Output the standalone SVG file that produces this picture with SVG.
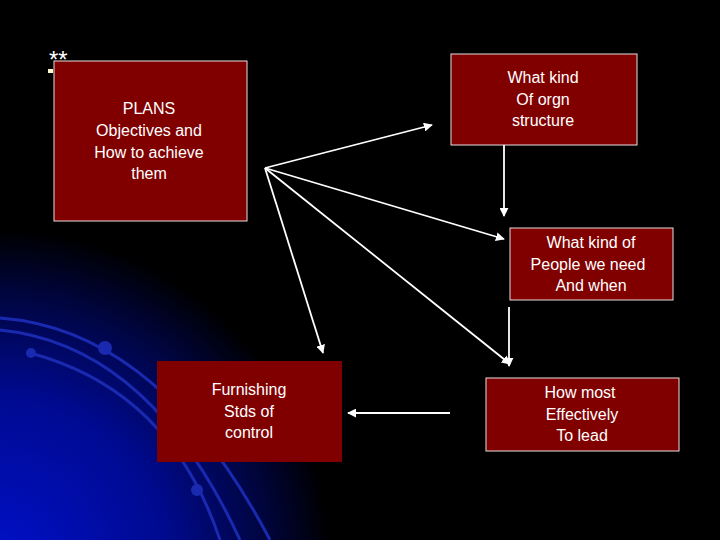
<svg xmlns="http://www.w3.org/2000/svg" width="720" height="540" viewBox="0 0 720 540">
<defs>
<radialGradient id="glow" cx="0" cy="560" r="330" gradientUnits="userSpaceOnUse">
<stop offset="0" stop-color="#0010c8"/><stop offset="0.5" stop-color="#000a90"/><stop offset="0.8" stop-color="#000540"/><stop offset="1" stop-color="#000000"/>
</radialGradient>
<marker id="ah" viewBox="0 0 10 10" refX="9" refY="5" markerWidth="5" markerHeight="5" orient="auto"><path d="M0,0 L10,5 L0,10 z" fill="#fff"/></marker>
<style>
.box{fill:#800000;stroke:#e8e0e0;stroke-width:1}
.t{font-family:"Liberation Sans",Arial,sans-serif;font-size:16px;fill:#fff;text-anchor:middle}
.c{stroke:#fff;stroke-width:1.8;fill:none;marker-end:url(#ah)}
.arc{stroke:#1a2ab0;stroke-width:3;fill:none}
</style>
</defs>
<rect width="720" height="540" fill="#000"/>
<rect x="0" y="200" width="400" height="340" fill="url(#glow)"/>
<path class="arc" d="M0,318 Q160,330 270,540"/>
<path class="arc" d="M0,330 Q150,345 240,540"/>
<path class="arc" d="M30,353 Q170,390 220,540"/>
<circle cx="105" cy="348" r="7" fill="#1a2ab0"/>
<circle cx="31" cy="353" r="5" fill="#1a2ab0"/>
<circle cx="197" cy="490" r="6" fill="#1a2ab0"/>
<text x="49" y="68" font-family="Liberation Sans,sans-serif" font-size="24" fill="#ffffff">**</text>
<rect x="48" y="69" width="5" height="4" fill="#fff8d0"/>
<g id="plans"><rect class="box" x="54" y="61" width="193" height="160"/>
<text class="t" x="149" y="114">PLANS</text><text class="t" x="149" y="136">Objectives and</text><text class="t" x="149" y="158">How to achieve</text><text class="t" x="149" y="179">them</text></g>
<g id="orgn"><rect class="box" x="451" y="54" width="186" height="91"/>
<text class="t" x="543" y="83">What kind</text><text class="t" x="543" y="105">Of orgn</text><text class="t" x="543" y="126">structure</text></g>
<g id="people"><rect class="box" x="510" y="228" width="163" height="72"/>
<text class="t" x="591" y="248">What kind of</text><text class="t" x="588" y="270">People we need</text><text class="t" x="591" y="291">And when</text></g>
<g id="lead"><rect class="box" x="486" y="378" width="193" height="73"/>
<text class="t" x="580" y="398">How most</text><text class="t" x="582" y="420">Effectively</text><text class="t" x="582" y="441">To lead</text></g>
<g id="control"><rect x="157" y="361" width="185" height="101" fill="#800000"/>
<text class="t" x="249" y="395">Furnishing</text><text class="t" x="249" y="417">Stds of</text><text class="t" x="249" y="438">control</text></g>
<g id="connectors">
<line class="c" x1="265" y1="168" x2="432" y2="125"/>
<line class="c" x1="265" y1="168" x2="504" y2="239"/>
<line class="c" x1="265" y1="168" x2="323" y2="353"/>
<line class="c" x1="265" y1="168" x2="510" y2="364"/>
<line class="c" x1="504" y1="145" x2="504" y2="216"/>
<line class="c" x1="509" y1="307" x2="509" y2="366"/>
<line class="c" x1="450" y1="413" x2="348" y2="413"/>
</g>
</svg>
